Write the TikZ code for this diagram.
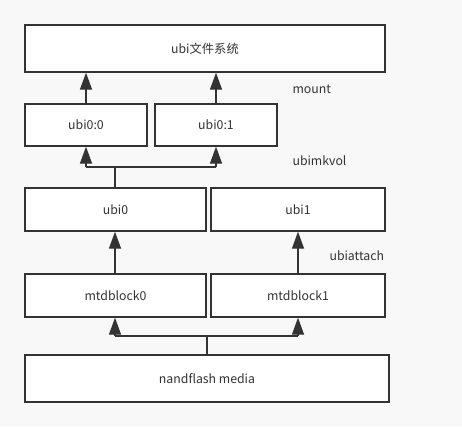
\documentclass[tikz,border=0pt]{standalone}
\usepackage{fontspec}
\setmainfont{Noto Sans CJK SC}
\usetikzlibrary{arrows.meta}
\definecolor{bg}{HTML}{F8F8F8}
\definecolor{ln}{HTML}{333333}
\definecolor{tx}{HTML}{333333}
\begin{document}
\begin{tikzpicture}[x=1pt,y=-1pt,
  box/.style={draw=ln,line width=1.3pt,fill=white,inner sep=0pt,text=tx,font=\fontsize{12.3}{14}\selectfont},
  conn/.style={draw=ln,line width=1.3pt},
  arr/.style={conn,-{Triangle[length=17pt,width=12pt]}},
  lbl/.style={text=tx,font=\fontsize{12.3}{14}\selectfont,anchor=west}]
\fill[bg] (0,0) rectangle (462,426);
\useasboundingbox (0,0) rectangle (462,426);
% boxes
\node[box,minimum width=360pt,minimum height=47pt] (fs) at (205,48.5) {ubi文件系统};
\node[box,minimum width=122pt,minimum height=42pt] (v0) at (86,125) {ubi0:0};
\node[box,minimum width=122pt,minimum height=42pt] (v1) at (216,125) {ubi0:1};
\node[box,minimum width=181pt,minimum height=43pt] (u0) at (115.5,209.5) {ubi0};
\node[box,minimum width=174pt,minimum height=43pt] (u1) at (298,209.5) {ubi1};
\node[box,minimum width=181pt,minimum height=43pt] (m0) at (115.5,295.5) {mtdblock0};
\node[box,minimum width=174pt,minimum height=43pt] (m1) at (298,295.5) {mtdblock1};
\node[box,minimum width=364pt,minimum height=47pt] (nf) at (207,378.5) {nandflash media};
% labels
\node[lbl] (lm) at (289,89) {mount};
\node[lbl] (lk) at (289,161) {ubimkvol};
\node[lbl] (la) at (326,256) {ubiattach};
% junctions
\coordinate (j1) at (115,167);
\coordinate (j1a) at (86,167);
\coordinate (j1b) at (216,167);
\coordinate (j2) at (207,336);
\coordinate (j2a) at (115,336);
\coordinate (j2b) at (298,336);
% connectors
\draw[arr] (v0.north) -- (v0.north |- fs.south);
\draw[arr] (v1.north) -- (v1.north |- fs.south);
\draw[conn] (u0.north -| j1) -- (j1);
\draw[conn] (j1a) -- (j1b);
\draw[arr] (j1a) -- (v0.south);
\draw[arr] (j1b) -- (v1.south);
\draw[arr] (m0.north -| j1) -- (j1 |- u0.south);
\draw[arr] (m1.north) -- (u1.south);
\draw[conn] (nf.north -| j2) -- (j2);
\draw[conn] (j2a) -- (j2b);
\draw[arr] (j2a) -- (j2a |- m0.south);
\draw[arr] (j2b) -- (m1.south);
\end{tikzpicture}
\end{document}
